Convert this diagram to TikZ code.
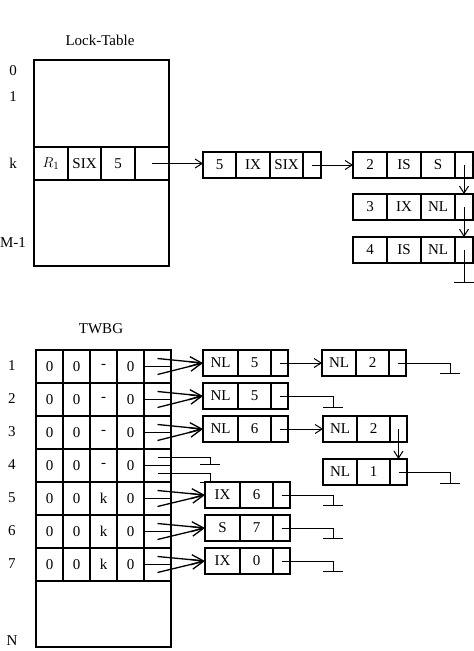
\documentclass[tikz,border=0pt]{standalone}
\usepackage{fontspec}
\setmainfont{Liberation Serif}
\usetikzlibrary{arrows.meta}
\usetikzlibrary{positioning}

\begin{document}
\begin{tikzpicture}[x=1pt,y=-1pt,
    every node/.style={font=\fontsize{15}{17}\selectfont},
    cell/.style={draw, line width=1.1pt, anchor=north west, inner sep=0pt, outer sep=0pt,
        minimum width=#1, minimum height=26pt},
    tcell/.style={cell=#1, minimum height=33pt},
    ptr/.style={-{Straight Barb[length=7pt,width=9pt]}, line width=1pt},
    twin/.style={-{Straight Barb[length=12pt,width=10pt]}, line width=1.3pt},
    gnd/.style={line width=1pt,
        to path={-| (\tikztotarget) (\tikztotarget) +(-10,0) -- +(10,0)}}
    ]
    \useasboundingbox (0,0) rectangle (474,651);

    % lock table
    \node (locktitle) at (100,40) {Lock-Table};
    \node[draw, line width=1.1pt, anchor=north west, inner sep=0pt, outer sep=0pt,
        minimum width=135pt, minimum height=206pt] (lock) at (34,60) {};
    \node (row0) at (13,71) {0};
    \node (row1) at (13,97) {1};
    \node (rowk) at (13,163) {k};
    \node (rowm) at (13,243) {M-1};
    \node[tcell=34pt] (k1) at (34,147) {$R_1$};
    \node[tcell=33pt, right=0pt of k1] (k2) {SIX};
    \node[tcell=34pt, right=0pt of k2] (k3) {5};
    \node[tcell=34pt, right=0pt of k3] (k4) {};

    % lock chain
    \node[cell=33pt] (a1) at (203,152) {5};
    \node[cell=34pt, right=0pt of a1] (a2) {IX};
    \node[cell=33pt, right=0pt of a2] (a3) {SIX};
    \node[cell=18pt, right=0pt of a3] (a4) {};
    \foreach \n/\y/\p/\q/\s in {b/152/2/IS/S, c/194/3/IX/NL, d/237/4/IS/NL} {
        \node[cell=34pt] (\n1) at (353,\y) {\p};
        \node[cell=34pt, right=0pt of \n1] (\n2) {\q};
        \node[cell=34pt, right=0pt of \n2] (\n3) {\s};
        \node[cell=18pt, right=0pt of \n3] (\n4) {};
    }
    \draw[ptr] (k4.center) -- (k4.center -| a1.west);
    \draw[ptr] (a4.center) -- (a4.center -| b1.west);
    \draw[ptr] (b4.center) -- (c4.north);
    \draw[ptr] (c4.center) -- (d4.north);
    \coordinate (g0) at (464,282);
    \draw[gnd] (d4.center) to (g0);

    % TWBG
    \node (twbgtitle) at (101,329) {TWBG};
    \node[draw, line width=1.1pt, anchor=north west, inner sep=0pt, outer sep=0pt,
        minimum width=135pt, minimum height=297pt] (twbg) at (36,350) {};
    \node (rown) at (12,641) {N};
    \foreach \r/\v in {1/-,2/-,3/-,4/-,5/k,6/k,7/k} {
        \node[tcell=27pt] (t\r-a) at (36,{350+33*(\r-1)}) {0};
        \node[tcell=27pt, right=0pt of t\r-a] (t\r-b) {0};
        \node[tcell=27pt, right=0pt of t\r-b] (t\r-c) {\v};
        \node[tcell=27pt, right=0pt of t\r-c] (t\r-d) {0};
        \node[tcell=27pt, right=0pt of t\r-d] (t\r-e) {};
        \draw[line width=1.1pt] (t\r-e.west) -- (t\r-e.east);
        \coordinate (t\r-u) at ([yshift=8pt]t\r-e.center);
        \coordinate (t\r-l) at ([yshift=-8pt]t\r-e.center);
        \node (r\r) at (12,{366+33*(\r-1)}) {\r};
    }
    \foreach \r/\x/\p/\q in {1/203/NL/5, 2/203/NL/5, 3/203/NL/6, 5/205/IX/6, 6/205/S/7, 7/205/IX/0} {
        \node[cell=35pt] (n\r-a) at (\x,{350+33*(\r-1)}) {\p};
        \node[cell=33pt, right=0pt of n\r-a] (n\r-b) {\q};
        \node[cell=17pt, right=0pt of n\r-b] (n\r-c) {};
        \draw[twin] (t\r-u) -- (n\r-a.west);
        \draw[twin] (t\r-l) -- (n\r-a.west);
    }
    \node[cell=34pt] (m1-a) at (322,350) {NL};
    \node[cell=33pt, right=0pt of m1-a] (m1-b) {2};
    \node[cell=17pt, right=0pt of m1-b] (m1-c) {};
    \node[cell=34pt] (m3-a) at (323,416) {NL};
    \node[cell=33pt, right=0pt of m3-a] (m3-b) {2};
    \node[cell=17pt, right=0pt of m3-b] (m3-c) {};
    \node[cell=34pt] (m4-a) at (323,459) {NL};
    \node[cell=33pt, right=0pt of m4-a] (m4-b) {1};
    \node[cell=17pt, right=0pt of m4-b] (m4-c) {};
    \draw[ptr] (n1-c.center) -- (m1-a.west);
    \draw[ptr] (n3-c.center) -- (m3-a.west);
    \draw[ptr] (m3-c.center) -- (m4-c.north);

    % nil pointers
    \coordinate (g1) at (450,373);
    \coordinate (g2) at (333,407);
    \coordinate (g3) at (450,483);
    \coordinate (g4) at (210,464);
    \coordinate (g5) at (210,482);
    \coordinate (g6) at (333,505);
    \coordinate (g7) at (333,538);
    \coordinate (g8) at (333,571);
    \draw[gnd] (m1-c.center) to (g1);
    \draw[gnd] (n2-c.center) to (g2);
    \draw[gnd] (m4-c.center) to (g3);
    \draw[gnd] (t4-u) to (g4);
    \draw[gnd] (t4-l) to (g5);
    \draw[gnd] (n5-c.center) to (g6);
    \draw[gnd] (n6-c.center) to (g7);
    \draw[gnd] (n7-c.center) to (g8);
\end{tikzpicture}
\end{document}
